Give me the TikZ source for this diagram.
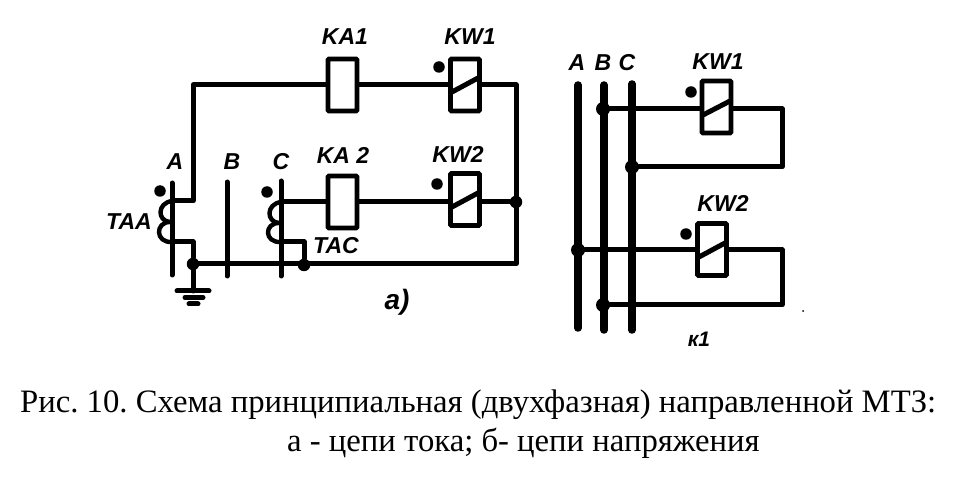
\documentclass[tikz,border=0pt]{standalone}
\usepackage{fontspec}
\setmainfont{Liberation Serif}
\newfontfamily\lblfont{Liberation Sans}
\frenchspacing
\begin{document}
\begin{tikzpicture}[x=1pt,y=-1pt,
  wire/.style={line width=5pt,line join=round,line cap=round},
  phase/.style={line width=5pt,line cap=round},
  bus/.style={line width=7.5pt,line cap=round},
  relay/.style={draw,line width=4.8pt,fill=white,rounded corners=1pt,minimum width=29pt,minimum height=52pt,inner sep=0pt},
  jdot/.style={circle,fill=black,inner sep=0pt,minimum size=12.5pt},
  bdot/.style={circle,fill=black,inner sep=0pt,minimum size=14pt},
  pdot/.style={circle,fill=black,inner sep=0pt,minimum size=11.5pt},
  lbl/.style={font=\lblfont\bfseries\itshape\fontsize{23}{23}\selectfont,inner sep=0pt},
  captext/.style={font=\fontsize{32.7}{33}\selectfont,inner sep=0pt,anchor=base west}]
\useasboundingbox (0,0) rectangle (953,478);
\fill[white] (0,0) rectangle (953,478);

% left diagram: phases
\coordinate (Atop) at (172,183); \coordinate (Abot) at (172,275);
\coordinate (Btop) at (227,182); \coordinate (Bbot) at (227,276);
\coordinate (Ctop) at (281,181); \coordinate (Cbot) at (281,276);
\draw[phase] (Atop) -- (Abot);
\draw[phase] (Btop) -- (Bbot);
\draw[phase] (Ctop) -- (Cbot);

% junctions
\node[jdot] (j1) at (193,264) {};
\node[jdot] (j2) at (304,265) {};
\node[jdot] (j3) at (516,202) {};
\coordinate (busR) at (516,264);
\coordinate (gnd) at (193,291);

\coordinate (Aa) at (172,201); \coordinate (Ab) at (172,242);
\coordinate (Ca) at (281,202); \coordinate (Cb) at (281,242);
\coordinate (tl) at (193,85);
\coordinate (tr) at (516,85);

% relays
\node[relay] (KA1) at (342.5,85) {};
\node[relay] (KW1) at (465,85) {};
\node[relay] (KA2) at (342.5,202) {};
\node[relay] (KW2) at (465,199.5) {};

% coils
\draw[line width=4.4pt,line cap=round,line join=round] (Aa) .. controls (157,203) and (157,221) .. (170,222)
  .. controls (155,222) and (155,243) .. (Ab);
\draw[line width=4.4pt,line cap=round,line join=round] (Ca) .. controls (266,204) and (266,222) .. (279,223)
  .. controls (264,223) and (264,243) .. (Cb);

% wires
\draw[wire] (Aa) -| (tl) -- (KA1.west);
\draw[wire] (KA1.east) -- (KW1.west);
\draw[wire] (KW1.east) -- (tr) -- (j3.center) -- (busR) -- (j1.center);
\draw[wire] (Ca) -- (KA2.west);
\draw[wire] (KA2.east) -- (KW2.west |- KA2.east);
\draw[wire] (KW2.east |- KA2.east) -- (j3);
\draw[wire] (Ab) -| (j1);
\draw[wire] (Cb) -| (j2);
\draw[wire] (j1) -- (gnd);
\draw[wire,line cap=butt] (452,92) -- (478,78);
\draw[wire,line cap=butt] (452,207) -- (478,193);

% earth
\coordinate (g1a) at (177,291); \coordinate (g1b) at (209,291);
\coordinate (g2a) at (185,297.5); \coordinate (g2b) at (203,297.5);
\coordinate (g3a) at (189,304); \coordinate (g3b) at (198,304);
\draw[wire] (g1a) -- (g1b);
\draw[wire] (g2a) -- (g2b);
\draw[wire] (g3a) -- (g3b);

% polarity dots
\node[pdot] (dA) at (160,191) {};
\node[pdot] (dC) at (267,192) {};
\node[pdot] (dK1) at (439,67) {};
\node[pdot] (dK2) at (437,184) {};

% left labels
\node[lbl] (lA) at (175,162) {A};
\node[lbl] (lB) at (232,162) {B};
\node[lbl] (lC) at (281,162) {C};
\node[lbl] (lTAA) at (129,222) {TAA};
\node[lbl] (lTAC) at (336,246) {TAC};
\node[lbl] (lKA1) at (345,37) {KA1};
\node[lbl] (lKW1) at (470,37) {KW1};
\node[lbl] (lKA2) at (343,155) {KA 2};
\node[lbl] (lKW2) at (458,154) {KW2};
\node[lbl,font=\lblfont\bfseries\itshape\fontsize{28}{28}\selectfont] (la) at (397,302) {a)};

% right diagram: buses
\coordinate (RAt) at (578,85); \coordinate (RAb) at (578,328);
\coordinate (RBt) at (604,85); \coordinate (RBb) at (604,330);
\coordinate (RCt) at (632,84); \coordinate (RCb) at (632,330);
\draw[bus] (RAt) -- (RAb);
\draw[bus] (RBt) -- (RBb);
\draw[bus] (RCt) -- (RCb);

\node[bdot] (rj1) at (603,109) {};
\node[bdot] (rj2) at (632,167) {};
\node[bdot] (rj3) at (578,250) {};
\node[bdot] (rj4) at (603,305) {};
\node[relay] (RK1) at (716.5,107) {};
\node[relay] (RK2) at (712,249.5) {};
\coordinate (r1c) at (782,109);
\coordinate (r1d) at (782,167);
\coordinate (r2c) at (782,250);
\coordinate (r2d) at (782,305);
\draw[wire] (rj1) -- (RK1.west |- rj1);
\draw[wire] (RK1.east |- rj1) -- (r1c) -- (r1d) -- (rj2);
\draw[wire] (rj3) -- (RK2.west |- rj3);
\draw[wire] (RK2.east |- rj3) -- (r2c) -- (r2d) -- (rj4);
\draw[wire,line cap=butt] (703,115) -- (730,101);
\draw[wire,line cap=butt] (699,257) -- (725,243);
\node[pdot] (rdK1) at (691,92) {};
\node[pdot] (rdK2) at (686,234) {};

\node[lbl] (rlA) at (577,63) {A};
\node[lbl] (rlB) at (603,63) {B};
\node[lbl] (rlC) at (627,63) {C};
\node[lbl] (rlKW1) at (718,62) {KW1};
\node[lbl] (rlKW2) at (723,203) {KW2};
\node[lbl,font=\lblfont\bfseries\itshape\fontsize{21}{21}\selectfont] (rlk) at (699,339) {к1};
\node[circle,fill=black,inner sep=0pt,minimum size=2pt] (speck) at (803,311) {};

% caption
\node[captext] (c1) at (20,412) {Рис. 10. Схема принципиальная (двухфазная) направленной МТЗ:};
\node[captext] (c2) at (287,451) {а - цепи тока; б- цепи напряжения};
\end{tikzpicture}
\end{document}
